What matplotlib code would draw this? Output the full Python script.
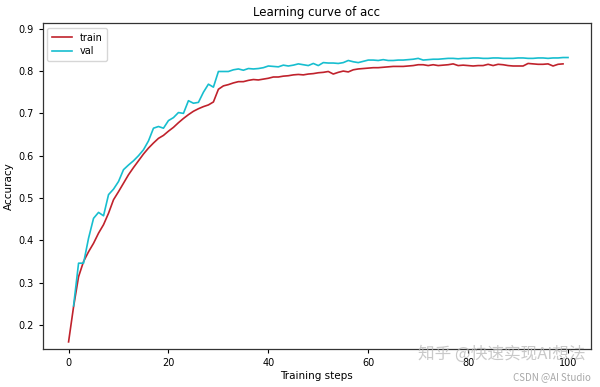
import matplotlib
matplotlib.use("Agg")
import matplotlib.pyplot as plt
import numpy as np

title = "Learning curve of acc"
x_label = "Training steps"
y_label = "Accuracy"
series_names = ["train", "val"]

train_acc = [
    0.160, 0.243, 0.314, 0.350, 0.373, 0.393, 0.417, 0.437, 0.464, 0.496,
    0.515, 0.535, 0.555, 0.572, 0.588, 0.604, 0.618, 0.630, 0.641, 0.648,
    0.658, 0.667, 0.678, 0.688, 0.697, 0.705, 0.711, 0.716, 0.720, 0.727,
    0.757, 0.765, 0.768, 0.772, 0.775, 0.775, 0.778, 0.780, 0.779, 0.781,
    0.783, 0.786, 0.786, 0.788, 0.789, 0.791, 0.792, 0.791, 0.793, 0.794,
    0.796, 0.797, 0.799, 0.793, 0.797, 0.800, 0.798, 0.803, 0.805, 0.806,
    0.807, 0.808, 0.808, 0.809, 0.810, 0.811, 0.811, 0.811, 0.812, 0.813,
    0.815, 0.815, 0.813, 0.815, 0.813, 0.814, 0.815, 0.817, 0.813, 0.814,
    0.813, 0.812, 0.813, 0.813, 0.816, 0.813, 0.816, 0.815, 0.813, 0.812,
    0.812, 0.812, 0.818, 0.817, 0.816, 0.816, 0.817, 0.812, 0.816, 0.817,
]
train_steps = list(range(0, 100))

val_acc = [
    0.245, 0.346, 0.346, 0.405, 0.452, 0.466, 0.458, 0.508, 0.521, 0.539,
    0.567, 0.578, 0.588, 0.600, 0.614, 0.635, 0.665, 0.669, 0.665, 0.683,
    0.690, 0.702, 0.700, 0.730, 0.724, 0.726, 0.750, 0.769, 0.762, 0.799,
    0.799, 0.799, 0.803, 0.805, 0.802, 0.806, 0.805, 0.806, 0.808, 0.812,
    0.811, 0.810, 0.814, 0.812, 0.814, 0.817, 0.815, 0.813, 0.818, 0.813,
    0.820, 0.819, 0.819, 0.818, 0.820, 0.825, 0.822, 0.820, 0.823, 0.826,
    0.826, 0.825, 0.827, 0.825, 0.825, 0.826, 0.826, 0.827, 0.828, 0.830,
    0.826, 0.827, 0.828, 0.828, 0.829, 0.830, 0.830, 0.829, 0.830, 0.830,
    0.831, 0.831, 0.830, 0.830, 0.831, 0.831, 0.830, 0.830, 0.830, 0.831,
    0.831, 0.830, 0.830, 0.831, 0.831, 0.830, 0.831, 0.831, 0.832, 0.832,
]
val_steps = list(range(1, 101))

y_ticks = [0.2, 0.3, 0.4, 0.5, 0.6, 0.7, 0.8, 0.9]
x_ticks = [0, 20, 40, 60, 80, 100]

fig = plt.figure(figsize=(6.0, 3.87), dpi=100)
ax = fig.add_axes([0.071, 0.098, 0.914, 0.843])

ax.plot(train_steps, train_acc, color="#c0222c", lw=1.2, label=series_names[0])
ax.plot(val_steps, val_acc, color="#17becf", lw=1.2, label=series_names[1])

ax.set_ylim(0.143, 0.914)
ax.set_xlim(-5.2, 104.6)
ax.set_yticks(y_ticks)
ax.set_yticklabels([f"{v:.1f}" for v in y_ticks])
ax.set_xticks(x_ticks)
ax.tick_params(labelsize=7, length=3, width=0.8)
ax.set_xlabel(x_label, fontsize=7.5, labelpad=2)
ax.set_ylabel(y_label, fontsize=7.5, labelpad=3)
ax.set_title(title, fontsize=8.5, pad=5)
for s in ax.spines.values():
    s.set_linewidth(0.9)
    s.set_color("#333333")

ax.legend(loc="upper left", fontsize=7, handlelength=2.0, borderpad=0.5,
          labelspacing=0.4, framealpha=0.8)

fig.text(0.975, 0.085, "知乎 @快速实现AI想法", ha="right", va="center",
         fontsize=12, color="#b8b8b8", alpha=0.75,
         family=["Noto Sans CJK SC", "DejaVu Sans"])
fig.text(0.985, 0.025, "CSDN @AI Studio", ha="right", va="center",
         fontsize=7, color="#a8a8a8",
         family=["Noto Sans CJK SC", "DejaVu Sans"])

fig.savefig("out.png", dpi=100)
